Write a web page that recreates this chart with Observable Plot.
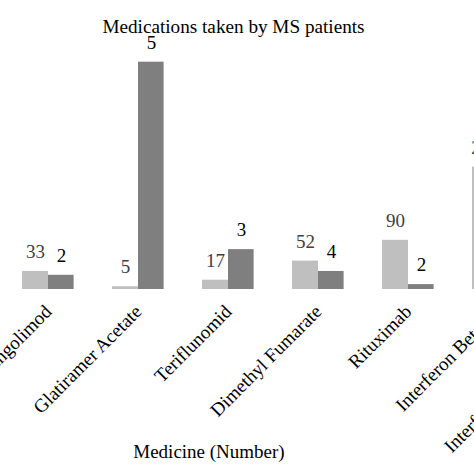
<!DOCTYPE html>
<html>
<head>
<meta charset="utf-8">
<script src="https://cdn.jsdelivr.net/npm/d3@7"></script>
<script src="https://cdn.jsdelivr.net/npm/@observablehq/plot@0.6"></script>
<style>
  html, body { margin: 0; padding: 0; background: #fff; overflow: hidden; }
  #wrap { position: relative; width: 474px; height: 474px; overflow: hidden; background: #fff; font-family: "Liberation Serif", "Times New Roman", serif; }
  #title { position: absolute; top: 17px; left: 0; width: 467px; text-align: center; font-size: 19.2px; line-height: 19px; color: #000; white-space: nowrap; z-index: 1; }
  #chart { position: absolute; top: 40px; left: 0; overflow: visible; }
  #chart svg { overflow: visible; background: transparent; }
  #xlabel { position: absolute; top: 442px; left: 0; width: 418px; text-align: center; font-size: 19px; line-height: 19px; color: #000; white-space: nowrap; }
</style>
</head>
<body>
<div id="wrap">
  <div id="title"></div>
  <div id="chart"></div>
  <div id="xlabel"></div>
</div>
<script>
const titleText = "Medications taken by MS patients";
const xAxisTitle = "Medicine (Number)";
const categories = ["Fingolimod", "Glatiramer Acetate", "Teriflunomid", "Dimethyl Fumarate", "Rituximab", "Interferon Beta-1b", "Interferon Beta-1a (Rebif)"];
const lightValues = [33, 5, 17, 52, 90, 224, 40];
const darkValues = [26, 416, 73, 33, 9, 60, 20];
const lightLabels = ["33", "5", "17", "52", "90", "224", "40"];
const darkLabels = ["2", "5", "3", "4", "2", "3", "1"];

const rows = categories.map((c, i) => ({
  category: c,
  light: lightValues[i],
  dark: darkValues[i],
  lightLabel: lightLabels[i],
  darkLabel: darkLabels[i]
}));

document.getElementById("title").textContent = titleText;
document.getElementById("xlabel").textContent = xAxisTitle;

const chart = Plot.plot({
  width: 474,
  height: 434,
  marginTop: 0,
  marginRight: 0,
  marginBottom: 185,
  marginLeft: 0,
  style: { fontFamily: "Liberation Serif, Times New Roman, serif", fontSize: "19px", background: "transparent", color: "#000", overflow: "visible" },
  x: { domain: categories, range: [2.7, 632.7], padding: 0 },
  y: { domain: [0, 455.7], range: [249, 0], axis: null },
  marks: [
    Plot.barY(rows, { x: "category", y: "light", fill: "#bfbfbf", insetLeft: 19, insetRight: 45 }),
    Plot.barY(rows, { x: "category", y: "dark", fill: "#7f7f7f", insetLeft: 45, insetRight: 19.4 }),
    Plot.text(rows, { x: "category", y: "light", text: "lightLabel", dx: -13, dy: -13.5, lineAnchor: "bottom", fill: "#404040", fontSize: 19 }),
    Plot.text(rows, { x: "category", y: "dark", text: "darkLabel", dx: 13, dy: -13.5, lineAnchor: "bottom", fill: "#000", fontSize: 19 }),
    Plot.axisX({ tickRotate: -45, tickSize: 0, tickPadding: 19, fontSize: 19, label: null, fill: "#000" })
  ]
});
document.getElementById("chart").appendChild(chart);
</script>
</body>
</html>
